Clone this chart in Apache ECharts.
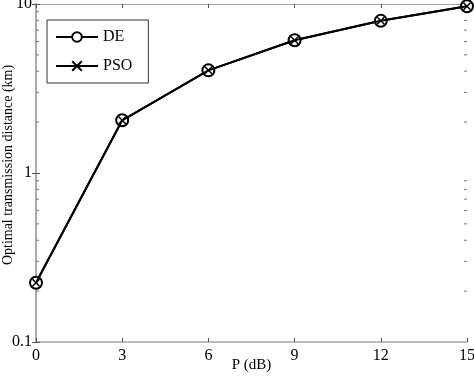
<!DOCTYPE html>
<html>
<head>
<meta charset="utf-8">
<script src="https://cdn.jsdelivr.net/npm/echarts@6/dist/echarts.min.js"></script>
<style>
html, body { margin: 0; padding: 0; background: #fff; }
#main { width: 474px; height: 376px; }
</style>
</head>
<body>
<div id="main"></div>
<script>
// P (dB) on x, distance (km) on y, log scale
var powerDb = [0, 3, 6, 9, 12, 15];
var distDE = [0.224, 2.05, 4.05, 6.1, 7.95, 9.7];
var distPSO = [0.224, 2.05, 4.05, 6.1, 7.95, 9.7];
var minorTicks = [0.2, 0.3, 0.4, 0.5, 0.6, 0.7, 0.8, 0.9, 2, 3, 4, 5, 6, 7, 8, 9];

var FONT = 'Liberation Serif';
var axisGray = '#a6a6a6';

function pairs(xs, ys) {
    return xs.map(function (x, i) { return [x, ys[i]]; });
}

var chart = echarts.init(document.getElementById('main'));
chart.setOption({
    animation: false,
    textStyle: { fontFamily: FONT },
    grid: { left: 36, right: 7, top: 4, bottom: 34, outerBoundsMode: 'none', containLabel: false },
    legend: {
        data: ['DE', 'PSO'],
        orient: 'vertical',
        left: 47, top: 20,
        itemWidth: 42, itemHeight: 12, itemGap: 13,
        padding: [9, 16, 9, 8],
        borderColor: '#333', borderWidth: 1,
        backgroundColor: '#fff',
        textStyle: { fontFamily: FONT, fontSize: 16, color: '#000' }
    },
    xAxis: [{
        type: 'value', min: 0, max: 15, interval: 3,
        name: 'P (dB)', nameLocation: 'middle', nameGap: 16, nameMoveOverlap: false,
        nameTextStyle: { fontFamily: FONT, fontSize: 15, color: '#000' },
        axisLine: { lineStyle: { color: axisGray, width: 1.5 } },
        axisTick: { inside: true, length: 4, lineStyle: { color: '#555' } },
        axisLabel: { fontFamily: FONT, fontSize: 16, color: '#000', margin: 6 },
        splitLine: { show: false }
    }, {
        type: 'value', position: 'top', min: 0, max: 15, interval: 3,
        axisLine: { lineStyle: { color: axisGray, width: 1 } },
        axisTick: { inside: true, length: 4, lineStyle: { color: '#555' } },
        axisLabel: { show: false },
        splitLine: { show: false }
    }],
    yAxis: [{
        type: 'log', logBase: 10, min: 0.1, max: 10,
        name: 'Optimal transmission distance (km)', nameLocation: 'middle', nameGap: 21, nameMoveOverlap: false,
        nameTextStyle: { fontFamily: FONT, fontSize: 14, color: '#000', padding: [0, 0, 0, 16] },
        axisLine: { lineStyle: { color: axisGray, width: 1.5 } },
        axisTick: { inside: true, length: 4, lineStyle: { color: '#555' } },
        axisLabel: { fontFamily: FONT, fontSize: 16, color: '#000', margin: 4 },
        splitLine: { show: false }
    }, {
        type: 'log', logBase: 10, min: 0.1, max: 10, position: 'right',
        axisLine: { lineStyle: { color: axisGray, width: 1.5 } },
        axisTick: { inside: true, length: 4, lineStyle: { color: '#555' } },
        axisLabel: { show: false },
        splitLine: { show: false }
    }],
    series: [{
        type: 'custom',
        silent: true,
        data: minorTicks.map(function (v) { return [0, v]; }),
        renderItem: function (params, api) {
            var v = api.value(1);
            var l = api.coord([0, v]);
            var r = api.coord([15, v]);
            var st = { stroke: '#777', lineWidth: 1 };
            return {
                type: 'group',
                children: [
                    { type: 'line', shape: { x1: l[0], y1: l[1], x2: l[0] + 3, y2: l[1] }, style: st },
                    { type: 'line', shape: { x1: r[0], y1: r[1], x2: r[0] - 3, y2: r[1] }, style: st }
                ]
            };
        }
    }, {
        name: 'DE', type: 'line',
        data: pairs(powerDb, distDE),
        symbol: 'circle', symbolSize: 12,
        lineStyle: { color: '#000', width: 2 },
        itemStyle: { color: '#fff', borderColor: '#000', borderWidth: 2 },
        z: 3
    }, {
        name: 'PSO', type: 'line',
        data: pairs(powerDb, distPSO),
        symbol: 'path://M0,0L10,10M10,0L0,10', symbolSize: 7,
        lineStyle: { color: '#000', width: 2 },
        itemStyle: { color: '#000', borderColor: '#000', borderWidth: 1.5 },
        z: 4
    }]
});
</script>
</body>
</html>
